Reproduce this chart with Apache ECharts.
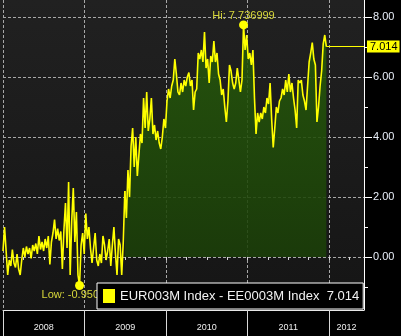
<!DOCTYPE html>
<html><head><meta charset="utf-8">
<script src="https://cdn.jsdelivr.net/npm/echarts@6/dist/echarts.min.js"></script>
<style>html,body{margin:0;padding:0;background:#000}#c{width:401px;height:336px}</style>
</head><body><div id="c"></div>
<script>
const seriesName = 'EUR003M Index - EE0003M Index';
const startYear = 2008;
const stepDays = 7;
const values = [
 0.2, 1.0, 0.95, -0.6, -0.1, -0.3, 0.25, -0.2, -0.35, 0.1,
 -0.4, -0.6, -0.1, 0.3, 0.0, 0.35, 0.1, 0.3, -0.05, 0.4,
 0.2, 0.45, 0.1, 0.7, 0.25, 0.5, 0.2, 0.6, 0.3, 0.7,
 -0.25, 0.5, 0.8, 1.25, 0.6, 0.95, 0.55, 0.85, -0.4, 0.9,
 1.8, 0.3, 2.5, -0.6, 1.2, 2.3, 0.5, 1.5, -0.6, -0.95,
 0.4, 0.8, 0.1, 1.45, 0.6, 1.0, 0.3, -0.2, 0.3, 0.8,
 -0.1, -0.3, 0.1, -0.2, 0.7, 0.4, -0.1, 0.2, 0.6, -0.3,
 0.4, 1.0, 0.1, -0.6, 0.6, 0.4, -0.6, 0.5, 2.2, 1.3,
 2.9, 2.0, 3.7, 4.3, 3.0, 4.0, 2.7, 3.4, 4.1, 3.8,
 5.3, 4.3, 5.5, 4.2, 4.6, 5.3, 4.1, 4.4, 3.9, 4.2,
 3.8, 3.6, 4.0, 4.6, 4.3, 5.2, 5.6, 5.3, 5.7, 5.9,
 6.6, 6.1, 5.5, 5.4, 5.8, 5.5, 5.9, 5.7, 6.0, 6.15,
 5.7, 5.9, 4.9, 5.5, 5.6, 6.8, 6.6, 6.9, 6.5, 7.5,
 6.3, 6.6, 5.8, 6.7, 6.5, 7.2, 6.5, 6.8, 6.1, 5.9,
 5.4, 5.6, 5.0, 4.5, 5.2, 6.4, 6.2, 5.8, 5.6, 5.8,
 6.3, 5.9, 5.5, 5.9, 7.736999, 6.9, 7.4, 6.6, 6.8, 6.4,
 6.9, 5.3, 4.1, 4.8, 4.5, 4.8, 4.6, 5.0, 4.8, 5.3,
 5.1, 5.8, 4.6, 3.65, 4.3, 5.0, 4.8, 5.2, 5.3, 5.6,
 5.4, 5.9, 5.5, 6.1, 5.5, 5.8, 5.3, 4.9, 4.3, 5.9,
 5.8, 5.9, 5.4, 5.2, 4.9, 5.7, 6.5, 6.8, 7.15, 6.6,
 6.4, 4.5, 5.0, 5.7, 6.2, 7.1, 7.4, 7.014
];
const yearLabels = [2008, 2009, 2010, 2011, 2012];
const yTickLabels = [0, 2, 4, 6, 8];
const yMinorTicks = [-1, 1, 3, 5, 7];
const fillFrom = 78;

const xMin = 2008, xMax = 2012.4294;
const yMin = -1.76667, yMax = 8.56667;
const pts = values.map((v, i) => [startYear + i * stepDays / 365.25, v]);
const last = pts[pts.length - 1];
const quarterTicks = [];
for (let q = xMin; q < xMax; q += 0.25) quarterTicks.push(+q.toFixed(2));
const labelPos = yearLabels.map(y => y + Math.min(1, xMax - y) / 2);

const font = 'Liberation Sans';
const chart = echarts.init(document.getElementById('c'), null, {renderer: 'canvas'});
chart.setOption({
  backgroundColor: '#000',
  animation: false,
  textStyle: {fontFamily: font},
  graphic: [{
    type: 'rect', z: -10, silent: true,
    shape: {x: 0, y: 0, width: 364, height: 310},
    style: {fill: new echarts.graphic.LinearGradient(0, 0, 0, 1, [
      {offset: 0, color: '#212121'}, {offset: 1, color: '#151515'}])}
  }],
  grid: {left: 3, right: 37, top: 0, bottom: 26},
  xAxis: [{
    type: 'value', min: xMin, max: xMax, interval: 1,
    axisLine: {show: true, onZero: false, lineStyle: {color: '#e8e8e8', width: 1}},
    axisTick: {show: true, length: 26, customValues: yearLabels, lineStyle: {color: '#d8d8d8'}},
    axisLabel: {customValues: labelPos, formatter: v => String(Math.floor(v)),
      color: '#eeeeee', fontSize: 9, margin: 13, fontFamily: font},
    splitLine: {show: true, lineStyle: {color: '#a8a8a8', type: [3, 2]}}
  }, {
    type: 'value', min: xMin, max: xMax, position: 'bottom',
    axisLine: {show: false},
    axisTick: {show: true, length: 3, customValues: quarterTicks, lineStyle: {color: '#d8d8d8'}},
    axisLabel: {show: false}, splitLine: {show: false}
  }],
  yAxis: [{
    type: 'value', position: 'right', min: yMin, max: yMax,
    axisLine: {show: true, onZero: false, lineStyle: {color: '#ffffff'}},
    axisTick: {show: true, length: 8, customValues: yTickLabels, lineStyle: {color: '#ffffff'}},
    axisLabel: {customValues: yTickLabels, formatter: v => v.toFixed(2),
      color: '#e8eef8', fontSize: 11, margin: 9, fontFamily: font},
    splitLine: {show: true, lineStyle: {color: '#a8a8a8', type: [3, 2]}}
  }, {
    type: 'value', position: 'right', min: yMin, max: yMax,
    axisLine: {show: false},
    axisTick: {show: true, length: 4, customValues: yMinorTicks, lineStyle: {color: '#ffffff'}},
    axisLabel: {show: false}, splitLine: {show: false}
  }],
  legend: {
    left: 97, top: 283, z: 10,
    data: [{name: seriesName, icon: 'rect', itemStyle: {color: '#ffff00'}}],
    itemWidth: 12, itemHeight: 14,
    backgroundColor: '#000', borderColor: '#ffffff', borderWidth: 1,
    padding: [6, 4, 6, 6], selectedMode: false,
    textStyle: {color: '#f2f2f2', fontSize: 13, fontFamily: font},
    formatter: n => n + '  ' + last[1].toFixed(3)
  },
  series: [{
    name: seriesName, type: 'line', data: pts.slice(0, fillFrom + 1),
    showSymbol: false, symbol: 'none', z: 3,
    lineStyle: {color: '#ffff00', width: 1.6}, itemStyle: {color: '#ffff00'},
    emphasis: {disabled: true},
    markPoint: {
      symbol: 'circle', symbolSize: 9, itemStyle: {color: '#ffff00'},
      data: [{type: 'min'}],
      label: {show: true, position: [-33.5, 13.5], align: 'left', verticalAlign: 'middle',
        formatter: p => 'Low: ' + p.value.toFixed(6), color: '#d6d63a', fontSize: 11, fontFamily: font}
    }
  }, {
    name: seriesName, type: 'line', data: pts.slice(fillFrom),
    showSymbol: false, symbol: 'none', z: 2, clip: false,
    lineStyle: {color: '#ffff00', width: 1.6}, itemStyle: {color: '#ffff00'},
    emphasis: {disabled: true},
    areaStyle: {opacity: 0.88, color: new echarts.graphic.LinearGradient(0, 0, 0, 1, [
      {offset: 0, color: '#265a0b'}, {offset: 1, color: '#1b3f08'}])},
    markPoint: {
      symbol: 'circle', symbolSize: 9, itemStyle: {color: '#ffff00'},
      data: [{type: 'max'}],
      label: {show: true, position: [4.5, -4], align: 'center', verticalAlign: 'middle',
        formatter: p => 'Hi: ' + p.value.toFixed(6), color: '#d6d63a', fontSize: 11, fontFamily: font}
    },
    markLine: {
      symbol: ['none', 'none'], silent: true,
      lineStyle: {color: '#ffff00', width: 1, type: 'solid'},
      emphasis: {disabled: true},
      label: {show: true, position: 'end', distance: 3, formatter: last[1].toFixed(3),
        color: '#000', backgroundColor: '#ffff00', fontSize: 11, fontFamily: font, padding: [1, 2, 0, 3]},
      data: [[{coord: [last[0], last[1]]}, {coord: [xMax, last[1]]}]]
    }
  }]
});
</script>
</body></html>
